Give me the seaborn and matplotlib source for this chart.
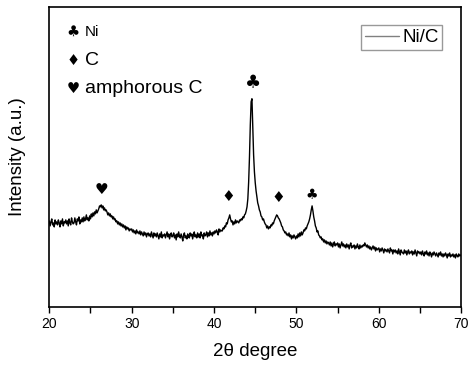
import matplotlib
matplotlib.use("Agg")
import matplotlib.pyplot as plt
from matplotlib.lines import Line2D
from matplotlib.ticker import MultipleLocator
import numpy as np
import pandas as pd
import seaborn as sns

# XRD scan of Ni/C (one row = 1 degree, 0.1 deg step)
intensity = [
    86, 81, 85, 88, 82, 84, 80, 87, 83, 85,    # 20
    82, 87, 84, 80, 86, 83, 88, 81, 85, 84,    # 21
    87, 83, 86, 81, 88, 84, 82, 89, 85, 83,    # 22
    84, 89, 85, 82, 88, 86, 90, 83, 87, 85,    # 23
    89, 85, 90, 86, 88, 92, 87, 89, 86, 91,    # 24
    88, 93, 90, 94, 91, 95, 93, 97, 94, 96,    # 25
    98, 101, 100, 102, 99, 101, 97, 99, 96, 97,  # 26
    95, 92, 94, 91, 93, 90, 91, 88, 90, 87,    # 27
    88, 85, 86, 83, 85, 82, 84, 81, 83, 80,    # 28
    82, 79, 81, 77, 80, 78, 79, 76, 78, 77,    # 29
    78, 75, 77, 74, 76, 73, 77, 74, 75, 73,    # 30
    76, 72, 75, 73, 71, 75, 72, 74, 70, 73,    # 31
    74, 71, 73, 70, 75, 72, 69, 74, 71, 73,    # 32
    70, 74, 71, 68, 73, 70, 75, 69, 72, 71,    # 33
    73, 69, 72, 75, 70, 73, 68, 72, 74, 70,    # 34
    71, 74, 69, 72, 67, 73, 70, 75, 71, 69,    # 35
    73, 70, 66, 72, 74, 69, 71, 68, 73, 70,    # 36
    69, 74, 71, 73, 68, 72, 75, 70, 72, 69,    # 37
    74, 70, 73, 69, 75, 71, 72, 68, 74, 71,    # 38
    72, 75, 70, 74, 71, 76, 72, 74, 71, 75,    # 39
    73, 76, 74, 77, 75, 72, 78, 75, 77, 76,    # 40
    76, 79, 78, 81, 80, 84, 83, 87, 89, 92,    # 41
    88, 85, 86, 82, 85, 83, 87, 84, 86, 85,    # 42
    84, 87, 86, 88, 87, 90, 89, 92, 93, 96,    # 43
    100, 108, 125, 150, 182, 205, 208, 180, 152, 135,  # 44
    124, 116, 110, 104, 101, 97, 95, 91, 90, 87,  # 45
    88, 85, 83, 82, 79, 81, 78, 80, 79, 82,    # 46
    81, 84, 83, 86, 88, 90, 92, 91, 89, 88,    # 47
    86, 84, 81, 80, 77, 76, 74, 75, 72, 73,    # 48
    71, 74, 70, 72, 68, 71, 69, 72, 70, 68,    # 49
    71, 69, 73, 70, 74, 71, 75, 72, 74, 77,    # 50
    76, 79, 78, 81, 83, 85, 88, 92, 97, 101,   # 51
    96, 90, 86, 81, 79, 75, 76, 72, 71, 69,    # 52
    70, 67, 68, 65, 67, 64, 66, 63, 65, 64,    # 53
    62, 65, 61, 64, 60, 63, 65, 61, 63, 62,    # 54
    64, 60, 63, 59, 62, 65, 61, 63, 60, 62,    # 55
    59, 63, 60, 62, 58, 62, 64, 59, 61, 60,    # 56
    62, 58, 61, 59, 63, 60, 58, 62, 59, 61,    # 57
    60, 62, 61, 64, 62, 60, 62, 59, 61, 58,    # 58
    60, 57, 59, 61, 58, 60, 56, 59, 57, 58,    # 59
    59, 55, 58, 56, 59, 57, 54, 58, 56, 57,    # 60
    55, 58, 56, 54, 59, 56, 57, 53, 57, 55,    # 61
    57, 54, 56, 53, 58, 55, 52, 57, 55, 54,    # 62
    53, 57, 54, 56, 52, 55, 57, 53, 55, 54,    # 63
    56, 52, 55, 53, 57, 54, 51, 56, 54, 55,    # 64
    53, 55, 52, 56, 53, 51, 55, 53, 56, 52,    # 65
    54, 51, 55, 53, 50, 54, 52, 55, 53, 51,    # 66
    54, 52, 50, 54, 52, 55, 51, 53, 50, 53,    # 67
    51, 54, 52, 49, 53, 51, 54, 50, 52, 51,    # 68
    53, 50, 52, 49, 53, 51, 50, 53, 51, 52,    # 69
    51,                                        # 70
]
two_theta = np.linspace(20, 70, len(intensity))

# Phase markers above the peaks
peak_symbols = ["\u2665", "\u2666", "\u2663", "\u2666", "\u2663"]
peak_pos = [26.3, 41.7, 44.7, 47.75, 51.9]
peak_height = [117, 110, 223, 109, 112]
peak_size = [11, 11, 13, 11, 10]

# Phase key
key_symbols = ["\u2663", "\u2666", "\u2665"]
key_labels = ["Ni", "C", "amphorous C"]
key_size = [11, 14, 14]

df = pd.DataFrame({"two_theta": two_theta, "intensity": intensity})

sns.set_style("ticks")
plt.rcParams["font.family"] = ["Liberation Sans", "DejaVu Sans"]
plt.rcParams["text.color"] = "black"
plt.rcParams["axes.labelcolor"] = "black"
plt.rcParams["xtick.color"] = "black"

fig = plt.figure(figsize=(4.74, 3.69), dpi=100)
ax = fig.add_axes([0.104, 0.168, 0.869, 0.814])

sns.lineplot(data=df, x="two_theta", y="intensity", ax=ax, color="black",
             linewidth=1.0, estimator=None)

ax.set_xlim(20, 70)
ax.set_ylim(0, 300)
ax.xaxis.set_major_locator(MultipleLocator(10))
ax.xaxis.set_minor_locator(MultipleLocator(5))
ax.set_yticks([])
ax.tick_params(axis="x", which="both", direction="out", length=4, width=1,
               labelsize=10, pad=3)
for s in ax.spines.values():
    s.set_linewidth(1.2)
    s.set_color("black")

ax.set_xlabel("2\u03b8 degree", fontsize=13.5, labelpad=9)
ax.set_ylabel("Intensity (a.u.)", fontsize=13.5, labelpad=17)

for sym, x, y, fs in zip(peak_symbols, peak_pos, peak_height, peak_size):
    ax.text(x, y, sym, ha="center", va="center", fontsize=fs,
            family="DejaVu Sans")

key_y = [0.917, 0.82, 0.727]
for sym, lab, y, fs in zip(key_symbols, key_labels, key_y, key_size):
    ax.text(0.0575, y, sym, transform=ax.transAxes, ha="center", va="center",
            fontsize=10.5, family="DejaVu Sans")
    ax.text(0.087, y, lab, transform=ax.transAxes, ha="left", va="center",
            fontsize=fs)

handle = Line2D([], [], color="#808080", linewidth=1)
leg = ax.legend([handle], ["Ni/C"], loc="upper right", fontsize=13.5,
                frameon=True, fancybox=False, handlelength=1.8,
                handletextpad=0.2, borderpad=0.2, borderaxespad=1.0)
leg.get_frame().set_edgecolor("#808080")
leg.get_frame().set_linewidth(1)

fig.savefig("out.png", dpi=100)
